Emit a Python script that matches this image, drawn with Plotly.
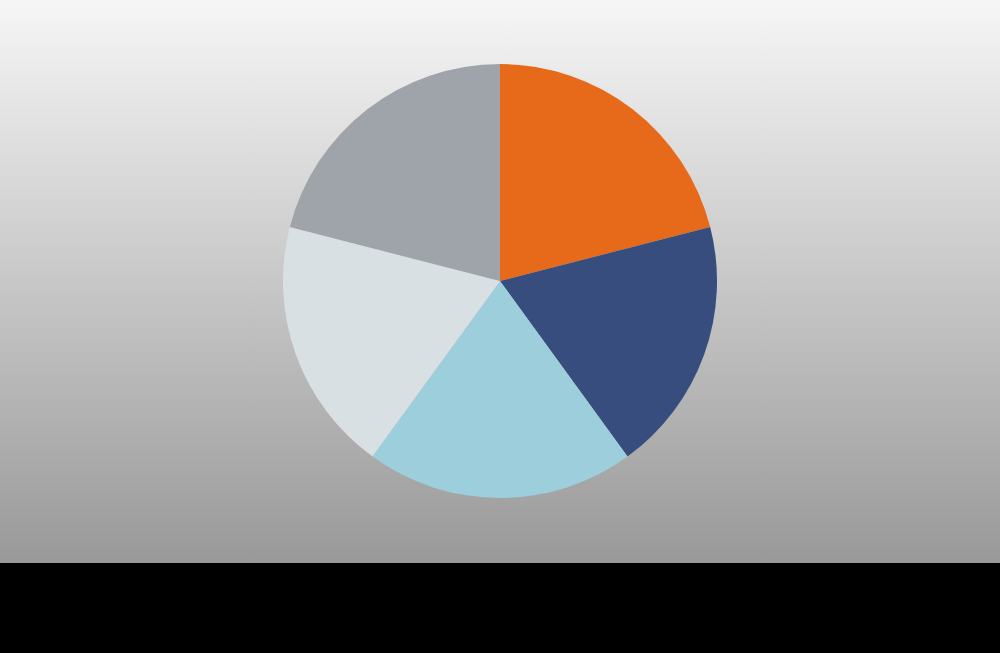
import base64
import plotly.graph_objects as go

categories = ["Segment 1", "Segment 2", "Segment 3", "Segment 4", "Segment 5"]
values = [21, 19, 20, 19, 21]
colors = ["#E66A1A", "#364D7D", "#9DCEDC", "#D9E0E4", "#9FA4AB"]

W, H = 1000, 653
band_bottom = 563  # px from top where grey background ends

svg = (
    '<svg xmlns="http://www.w3.org/2000/svg" width="1000" height="563" '
    'preserveAspectRatio="none">'
    '<defs><linearGradient id="g" x1="0" y1="0" x2="0" y2="1">'
    '<stop offset="0" stop-color="#F6F6F6"/>'
    '<stop offset="1" stop-color="#999999"/>'
    '</linearGradient></defs>'
    '<rect width="1000" height="563" fill="url(#g)"/></svg>'
)
bg_src = "data:image/svg+xml;base64," + base64.b64encode(svg.encode()).decode()

fig = go.Figure(go.Pie(
    labels=categories,
    values=values,
    sort=False,
    direction="clockwise",
    rotation=0,
    marker=dict(colors=colors, line=dict(width=0)),
    textinfo="none",
    hoverinfo="label+percent",
    domain=dict(x=[0, 1], y=[1 - (281 + 217) / H, 1 - (281 - 217) / H]),
    showlegend=False,
))

fig.update_layout(
    width=W, height=H,
    margin=dict(l=0, r=0, t=0, b=0),
    paper_bgcolor="#000000",
    plot_bgcolor="#000000",
    images=[dict(source=bg_src, xref="paper", yref="paper",
                 x=0, y=1, sizex=1, sizey=band_bottom / H,
                 xanchor="left", yanchor="top", sizing="stretch",
                 layer="below")],
)

fig.write_html("out.html",
               config={"displayModeBar": False},
               post_script="document.body.style.margin='0';"
                           "document.body.style.overflow='hidden';")
